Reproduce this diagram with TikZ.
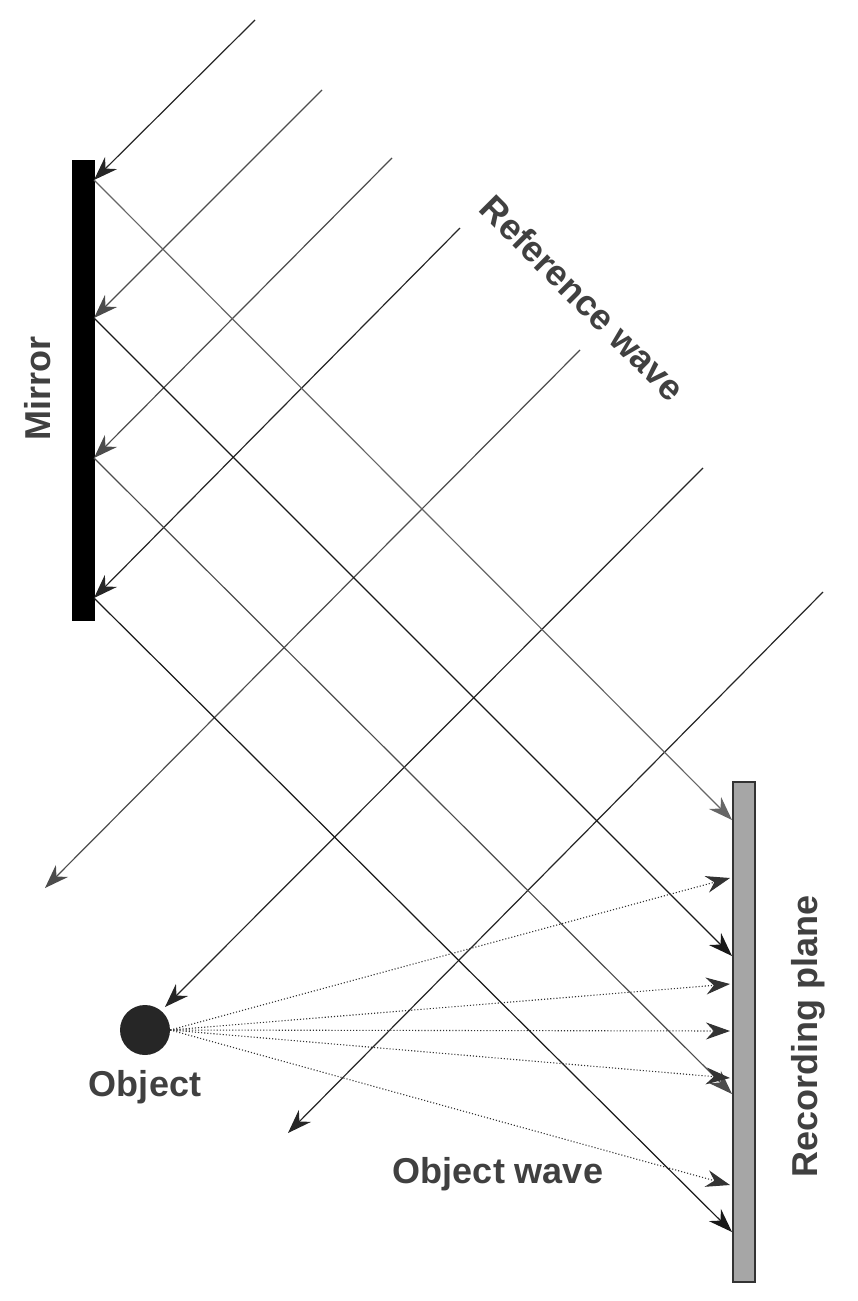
\documentclass[tikz,border=0pt]{standalone}
\usepackage{fontspec}
\setmainfont{Liberation Sans}
\usetikzlibrary{arrows.meta}
\begin{document}
\begin{tikzpicture}[x=1pt,y=-1pt,
  ray/.style={line width=1.2pt,-{Stealth[length=24pt,width=17pt]}},
  dray/.style={line width=1.1pt,dotted,draw=black!80,-{Stealth[length=24pt,width=17pt]}},
  lbl/.style={font=\fontsize{36}{40}\selectfont\bfseries,text=black!75}]
\useasboundingbox (0,0) rectangle (858,1301);
% mirror and plane
\node[draw=black,fill=black,minimum width=22pt,minimum height=460pt,inner sep=0] (mirror) at (83,390) {};
\node[draw=black!80,fill=black!35,line width=1.2pt,minimum width=22pt,minimum height=500pt,inner sep=0] (plane) at (744,1032) {};
\node[circle,fill=black!85,minimum size=50pt,inner sep=0] (obj) at (145,1030) {};
% coordinates
\coordinate (s1) at (255,20);  \coordinate (m1) at (94,180);
\coordinate (s2) at (322,90);  \coordinate (m2) at (94,318);
\coordinate (s3) at (392,158); \coordinate (m3) at (94,458);
\coordinate (s4) at (460,228); \coordinate (m4) at (94,598);
\coordinate (s5) at (580,350); \coordinate (e5) at (45,888);
\coordinate (s6) at (703,468); \coordinate (e6) at (165,1007);
\coordinate (s7) at (823,592); \coordinate (e7) at (288,1133);
\coordinate (r1) at (732,820); \coordinate (r2) at (732,956);
\coordinate (r3) at (732,1094); \coordinate (r4) at (732,1232);
% incoming
\draw[ray,draw=black!85] (s1) -- (m1);
\draw[ray,draw=black!70] (s2) -- (m2);
\draw[ray,draw=black!70] (s3) -- (m3);
\draw[ray,draw=black!85] (s4) -- (m4);
\draw[ray,draw=black!70] (s5) -- (e5);
\draw[ray,draw=black!85] (s6) -- (e6);
\draw[ray,draw=black!85] (s7) -- (e7);
% reflected
\draw[ray,draw=black!60] (m1) -- (r1);
\draw[ray,draw=black!90] (m2) -- (r2);
\draw[ray,draw=black!70] (m3) -- (r3);
\draw[ray,draw=black!90] (m4) -- (r4);
% object waves
\coordinate (o1) at (730,878); \coordinate (o2) at (730,984);
\coordinate (o3) at (730,1031); \coordinate (o4) at (730,1078);
\coordinate (o5) at (730,1185);
\foreach \t in {o1,o2,o3,o4,o5} \draw[dray] (obj.east) -- (\t);
% labels
\node[lbl,rotate=90] (lm) at (38,388) {Mirror};
\node[lbl,rotate=-45] (lr) at (583,298) {Reference wave};
\node[lbl] (lo) at (145,1087) {Object};
\node[lbl] (low) at (498,1174) {Object wave};
\node[lbl,rotate=90] (lp) at (808,1036) {Recording plane};
\end{tikzpicture}
\end{document}
